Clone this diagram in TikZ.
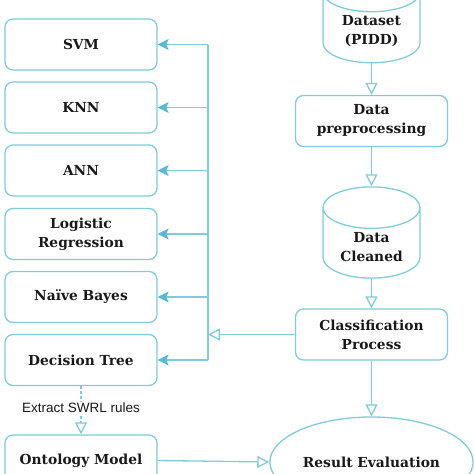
\documentclass[tikz,border=0pt]{standalone}
\usepackage{fontspec}
\setmainfont{DejaVu Serif}
\newfontfamily\rulefont{Liberation Sans}
\usepackage{tikz}
\usetikzlibrary{arrows.meta,shapes.geometric}

\definecolor{flowcyan}{RGB}{125,205,218}
\definecolor{tipblue}{RGB}{85,185,215}
\definecolor{inkgray}{RGB}{25,25,25}

\tikzset{
  stage/.style={draw=flowcyan,line width=1.3pt,rounded corners=8pt,minimum width=152pt,minimum height=51pt,
    align=center,text=inkgray,font=\bfseries\fontsize{13.8}{19}\selectfont,inner sep=2pt},
  store/.style={draw=flowcyan,line width=1.3pt,cylinder,shape border rotate=90,aspect=0.6,
    minimum width=97pt,minimum height=80pt,align=center,text=inkgray,font=\bfseries\fontsize{13.8}{19}\selectfont},
  flow/.style={draw=flowcyan,line width=1.3pt,-{Triangle[open,length=12pt,width=12pt]}},
  feed/.style={draw=flowcyan,line width=1.3pt,-{Stealth[length=11pt,width=11pt,inset=2.5pt,color=tipblue]}}
}

\begin{document}
\begin{tikzpicture}[x=1pt,y=-1pt]
        \useasboundingbox (0,0) rectangle (474,474);

        \node[stage] (svm) at (81,44.5) {SVM};
        \node[stage] (knn) at (81,107.5) {KNN};
        \node[stage] (ann) at (81,170.5) {ANN};
        \node[stage] (lr) at (81,234) {Logistic\\Regression};
        \node[stage] (nb) at (81,297) {Naïve Bayes};
        \node[stage] (dt) at (81,360) {Decision Tree};
        \node[stage] (onto) at (81,460.5) {Ontology Model};

        \node[store,anchor=shape center] (ds) at (371.5,17.5) {Dataset\\(PIDD)};
        \node[stage] (prep) at (371.5,121) {Data\\preprocessing};
        \node[store,anchor=shape center] (clean) at (371.5,232.5) {Data\\Cleaned};
        \node[stage] (cls) at (371.5,334.5) {Classification\\Process};
        \node[draw=flowcyan,line width=1.3pt,ellipse,minimum width=202pt,minimum height=90pt,text=inkgray,
          font=\bfseries\fontsize{13.8}{19}\selectfont] (eval) at (371.5,462) {Result Evaluation};

        \coordinate (hub) at (208,334.5);

        \draw[flow] (ds.bottom) -- (prep.north);
        \draw[flow] (prep.south) -- (clean.top);
        \draw[flow] (clean.bottom) -- (cls.north);
        \draw[flow] (cls.south) -- (eval.north);
        \draw[flow] (cls.west) -- (hub);

        \draw[draw=flowcyan,line width=1.3pt] (hub |- svm.east) -- (hub |- dt.east);
        \draw[feed] (hub |- svm.east) -- (svm.east);
        \draw[feed] (hub |- knn.east) -- (knn.east);
        \draw[feed] (hub |- ann.east) -- (ann.east);
        \draw[feed] (hub |- lr.east) -- (lr.east);
        \draw[feed] (hub |- nb.east) -- (nb.east);
        \draw[feed] (hub |- dt.east) -- (dt.east);

        \draw[flow,dash pattern=on 3pt off 2pt] (dt.south) -- node[pos=0.45,fill=white,text=inkgray,inner sep=1pt,
          font=\rulefont\fontsize{13.5}{16}\selectfont] {Extract SWRL rules} (onto.north);
        \draw[flow] (onto.east) -- (eval.west);
      \end{tikzpicture}
\end{document}
